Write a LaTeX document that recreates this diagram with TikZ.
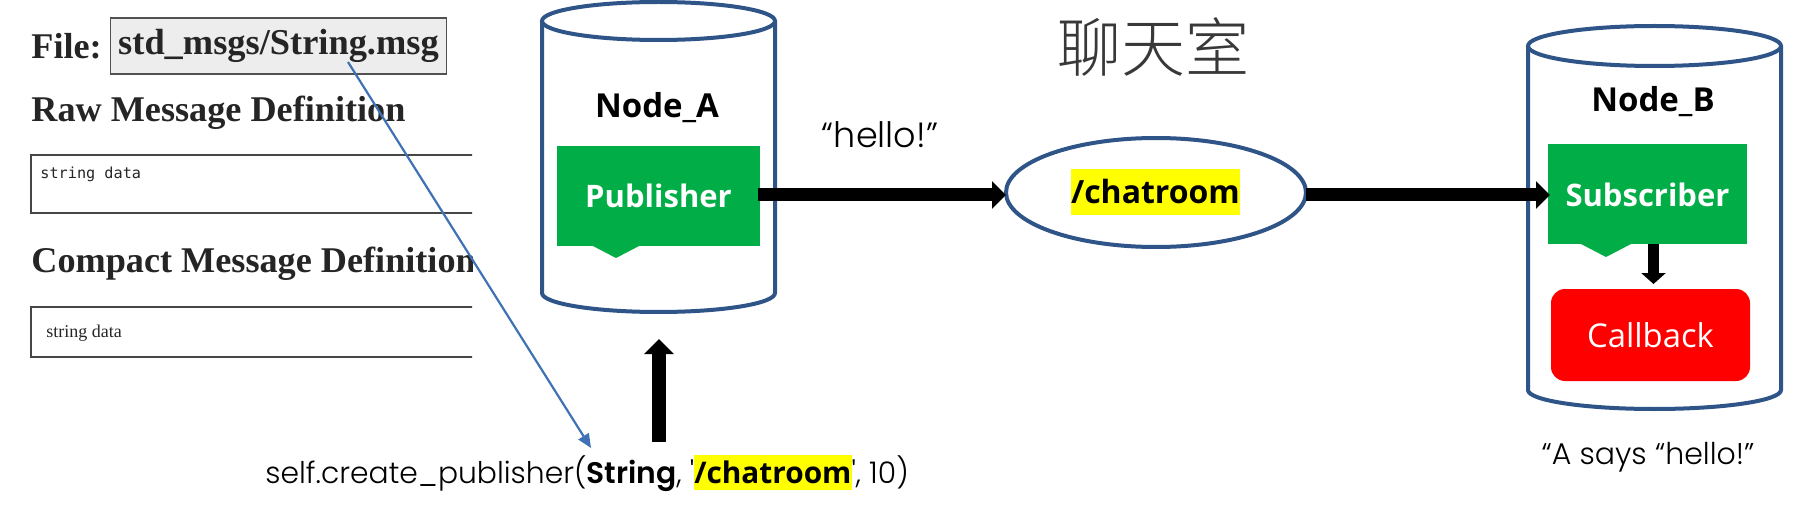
\documentclass[tikz,border=0pt]{standalone}
\usepackage{fontspec}
\usetikzlibrary{shapes.geometric,arrows.meta}
\setmainfont{Liberation Serif}
\newfontfamily\uifont{Open Sans}
\newfontfamily\popfont{Poppins Light}[BoldFont=Poppins SemiBold]
\newfontfamily\monofont{DejaVu Sans Mono}
\newfontfamily\cjkfont{Noto Sans CJK SC Light}
\newcommand{\fs}[1]{\fontsize{#1}{#1}\selectfont}
\definecolor{cylblue}{HTML}{2F5488}
\definecolor{pubgreen}{HTML}{00AD47}
\definecolor{linkblue}{HTML}{3F72B5}
\definecolor{webink}{HTML}{252525}
\definecolor{hilite}{HTML}{FFFF00}
\tikzset{
  x=0.5pt,y=-0.5pt,
  cyl/.style={draw=cylblue,line width=2pt,fill=white},
  greenbox/.style={fill=pubgreen,text=white,inner sep=0pt,minimum width=101.5pt,minimum height=50pt,font=\uifont\bfseries\fs{15.5}},
  bigarrow/.style={line width=6.5pt,-{Triangle[length=7pt,width=13.5pt]}},
  webbox/.style={draw=webink!85,line width=0.6pt},
  webhead/.style={anchor=base west,inner sep=0pt,text=webink,font=\bfseries\fs{18.1}},
  nodetitle/.style={anchor=base,inner sep=0pt,font=\uifont\bfseries\fs{16.5}},
}
\begin{document}
\begin{tikzpicture}
\useasboundingbox (0,0) rectangle (1796,508);
% web page excerpt
\node[webhead] (filelabel) at (31,59) {File:};
\node[draw=webink!80,line width=0.7pt,fill=black!7,inner sep=0pt,minimum width=168pt,minimum height=28pt,text=webink,font=\bfseries\fs{18.2}] (filebox) at (278.5,46) {\raisebox{-1.5pt}{std\_msgs/String.msg}};
\node[webhead] (rawhead) at (31,121.5) {Raw Message Definition};
\begin{scope}
\clip (0,150) rectangle (472,420);
\node[webhead] (comphead) at (31,272) {Compact Message Definition};
\draw[webbox] (480,155) -- (31,155) -- (31,213) -- (480,213);
\draw[webbox] (480,307) -- (31,307) -- (31,357) -- (480,357);
\end{scope}
\node[anchor=base west,inner sep=0pt,text=webink,font=\monofont\fs{7.6}] (rawdata) at (40,179) {string data};
\node[anchor=base west,inner sep=0pt,text=webink,font=\fs{9}] (compdata) at (46,337) {string data};
% cylinder A
\draw[cyl] (542,21) -- (542,293) arc[start angle=180,end angle=0,x radius=116.5,y radius=19] -- (775,21);
\draw[cyl] (658.5,21) ellipse[x radius=116.5,y radius=19];
\node[nodetitle] (nodeA) at (657,117.5) {Node\_A};
\fill[pubgreen] (591,245) -- (616,258) -- (641,245) -- cycle;
\node[greenbox] (pub) at (658.5,196) {\raisebox{-1.2pt}{Publisher}};
% title
\node[inner sep=0pt,text=black!78,font=\cjkfont\fs{32}] (title) at (1153,47) {聊天室};
\node[anchor=base,inner sep=0pt,font=\popfont\fs{17.5}] (hello) at (880,148) {“hello!”};
% topic
\node[ellipse,draw=cylblue,line width=2pt,fill=white,minimum width=150pt,minimum height=54.5pt,inner sep=0pt] (topic) at (1156,192.5) {};
\node[fill=hilite,inner sep=0pt,minimum width=82.5pt,minimum height=23pt,font=\uifont\bfseries\fs{16}] (topicname) at (1155.5,192) {\raisebox{-1.5pt}{/chatroom}};
% cylinder B
\draw[cyl] (1528,46) -- (1528,390) arc[start angle=180,end angle=0,x radius=126.5,y radius=19] -- (1781,46);
\draw[cyl] (1654.5,46) ellipse[x radius=126.5,y radius=20];
\node[nodetitle] (nodeB) at (1653,112) {Node\_B};
\fill[pubgreen] (1581,244) -- (1606,257) -- (1631,244) -- cycle;
\node[greenbox,minimum width=99.5pt] (sub) at (1647.5,194.5) {Subscriber};
\node[fill=red,rounded corners=7pt,text=white,inner sep=0pt,minimum width=99.5pt,minimum height=46pt,font=\uifont\fs{16.4}] (cb) at (1650.5,335) {Callback};
\node[anchor=base,inner sep=0pt,font=\popfont\fs{15}] (says) at (1648,464) {“A says “hello!”};
% code line
\node[anchor=base west,inner sep=0pt,font=\popfont\fs{14.9}] (code) at (265,483) {self.create\_publisher(\textbf{String}, '\setlength{\fboxsep}{0pt}\colorbox{hilite}{\uifont\bfseries\rule[-3.5pt]{0pt}{17.5pt}/chatroom}', 10)};
% connectors
\coordinate (pubout) at (758,195);
\coordinate (topicin) at (1006,195);
\coordinate (topicout) at (1306,195);
\coordinate (subin) at (1550,195);
\coordinate (codetop) at (659,442);
\coordinate (cylAbelow) at (659,339);
\coordinate (subout) at (1653.5,244);
\coordinate (cbabove) at (1653.5,284);
\coordinate (linkstart) at (348,62);
\coordinate (linkend) at (591,448);
\draw[bigarrow] (pubout) -- (topicin);
\draw[bigarrow] (topicout) -- (subin);
\draw[bigarrow,line width=7pt,-{Triangle[length=7.5pt,width=14.5pt]}] (codetop) -- (cylAbelow);
\draw[line width=5.5pt,-{Triangle[length=5.5pt,width=12pt]}] (subout) -- (cbabove);
\draw[draw=linkblue,line width=1.1pt,-{Triangle[length=7pt,width=6pt]}] (linkstart) -- (linkend);
\end{tikzpicture}
\end{document}
